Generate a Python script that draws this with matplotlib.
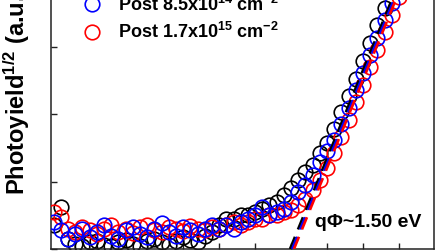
import numpy as np
import matplotlib.pyplot as plt

plt.rcParams['font.family'] = ['Liberation Sans', 'DejaVu Sans']
plt.rcParams['font.weight'] = 'bold'
plt.rcParams['mathtext.fontset'] = 'custom'
plt.rcParams['mathtext.rm'] = 'Liberation Sans:bold'
plt.rcParams['mathtext.it'] = 'Liberation Sans:bold'
plt.rcParams['mathtext.bf'] = 'Liberation Sans:bold'

# photon energy grid (eV)
energy = [0.84, 0.86, 0.88, 0.90, 0.92, 0.94, 0.96, 0.98, 1.00, 1.02,
          1.04, 1.06, 1.08, 1.10, 1.12, 1.14, 1.16, 1.18, 1.20, 1.22,
          1.24, 1.26, 1.28, 1.30, 1.32, 1.34, 1.36, 1.38, 1.40, 1.42,
          1.44, 1.46, 1.48, 1.50, 1.52, 1.54, 1.56, 1.58, 1.60, 1.62,
          1.64, 1.66, 1.68, 1.70, 1.72, 1.74, 1.76, 1.78, 1.80, 1.82, 1.84]

# sqrt(photoyield), a.u.
y_pre = [0.35, 0.62, 0.15, 0.08, 0.05, 0.10, 0.12, 0.06, 0.04, 0.10,
         0.14, 0.08, 0.05, 0.12, 0.15, 0.10, 0.06, 0.12, 0.18, 0.14,
         0.10, 0.20, 0.25, 0.35, 0.45, 0.45, 0.50, 0.50, 0.55, 0.60,
         0.65, 0.70, 0.80, 0.90, 1.02, 1.15, 1.25, 1.42, 1.58, 1.78,
         2.03, 2.28, 2.53, 2.80, 3.06, 3.33, 3.58, 3.83, 4.08, 4.33, 4.58]

y_low = [0.40, 0.28, 0.15, 0.22, 0.30, 0.18, 0.25, 0.35, 0.20, 0.15,
         0.28, 0.32, 0.22, 0.18, 0.30, 0.38, 0.25, 0.20, 0.32, 0.28,
         0.22, 0.30, 0.35, 0.30, 0.35, 0.30, 0.40, 0.45, 0.50, 0.62,
         0.50, 0.55, 0.60, 0.70, 0.85, 0.95, 1.10, 1.30, 1.45, 1.62,
         1.86, 2.10, 2.36, 2.62, 2.88, 3.14, 3.40, 3.66, 3.92, 4.18, 4.44]

y_high = [0.55, 0.48, 0.30, 0.25, 0.32, 0.28, 0.22, 0.30, 0.35, 0.26,
          0.30, 0.24, 0.32, 0.36, 0.28, 0.25, 0.33, 0.30, 0.27, 0.34,
          0.30, 0.28, 0.32, 0.30, 0.35, 0.40, 0.35, 0.40, 0.45, 0.45,
          0.50, 0.50, 0.55, 0.58, 0.66, 0.75, 0.88, 1.02, 1.20, 1.42,
          1.66, 1.92, 2.18, 2.44, 2.70, 2.96, 3.22, 3.48, 3.74, 4.00, 4.26]

# linear fits: onset energy and slope
fit_onset = [1.497, 1.503, 1.508]
fit_slope = 13.1

labels = ['Pre',
          r'Post 8.5x10$^{14}$ cm$^{-2}$',
          r'Post 1.7x10$^{15}$ cm$^{-2}$']
colors = ['black', '#0000ff', '#ff0000']
series = [y_pre, y_low, y_high]
zorders = [2, 4, 3]

fig = plt.figure(figsize=(4.48, 2.52), dpi=100)
ax = fig.add_axes([51 / 448, 3 / 252, 383 / 448, 289 / 252])

handles = []
for y, c, z, lab in zip(series, colors, zorders, labels):
    h, = ax.plot(energy, y, 'o', mfc='none', mec=c, ms=10.5, mew=1.2,
                 zorder=z, label=lab)
    handles.append(h)

y_top = 4.6
for e0, c in zip(fit_onset, colors):
    ax.plot([e0, e0 + y_top / fit_slope], [0, y_top], color=c, lw=1.9,
            dashes=(5, 3), zorder=6)

ax.set_xlim(0.833, 1.897)
ax.set_ylim(0, 4.294)
ax.set_xticks(np.arange(0.9, 1.9, 0.1))
ax.set_yticks([0, 1, 2, 3, 4])
ax.tick_params(direction='in', length=4, width=1, labelleft=False,
               labelbottom=False, colors='#222222')
for s in ax.spines.values():
    s.set_linewidth(1.1)
    s.set_color('#222222')

ax.legend(handles=handles, loc='lower left', frameon=False, fontsize=13,
          handlelength=1.0, handletextpad=0.95, borderpad=0, borderaxespad=0,
          labelspacing=0.4,
          bbox_to_anchor=(83 / 448, 1 - 42 / 252), bbox_transform=fig.transFigure)

fig.text(315 / 448, 1 - 227 / 252, 'q\u03a6~1.50 eV', fontsize=14,
         fontweight='bold', ha='left', va='baseline')
fig.text(17 / 448, 57 / 252, r'Photoyield$^{1/2}$ (a.u.)', fontsize=17,
         fontweight='bold', rotation=90, ha='center', va='bottom')

fig.savefig('out.png', dpi=100)
